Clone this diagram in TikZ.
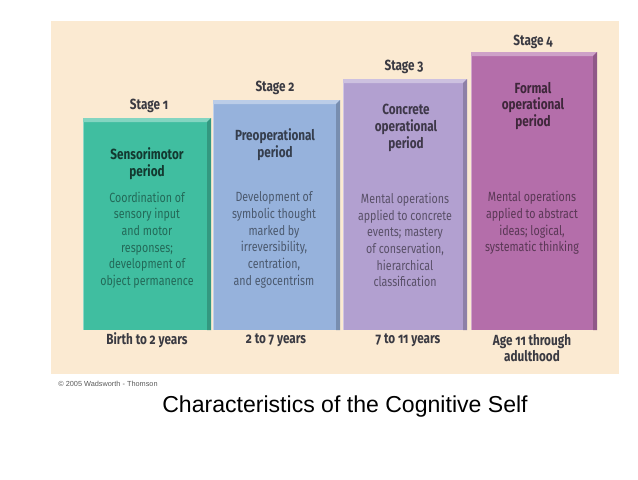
\documentclass[tikz,border=0pt]{standalone}
\usepackage{fontspec}
\setmainfont{Fira Sans}[Numbers=OldStyle, FakeStretch=0.8]
\newfontfamily\titlefont{Liberation Sans}

\definecolor{paper}{RGB}{251,234,210}
\definecolor{tealS}{RGB}{64,190,160}
\definecolor{blueS}{RGB}{150,178,220}
\definecolor{lilacS}{RGB}{178,160,208}
\definecolor{plumS}{RGB}{180,110,170}
\definecolor{inkS}{RGB}{58,58,66}

\begin{document}
\begin{tikzpicture}[
        x=0.75pt,
        y=-0.75pt,
        stagelab/.style={font=\fontsize{11}{13}\selectfont\bfseries, text=inkS},
        headtxt/.style={align=center, font=\fontsize{11}{12.5}\selectfont\bfseries},
        bodytxt/.style={align=center, font=\fontsize{10}{12.5}\selectfont},
        agetxt/.style={align=center, font=\fontsize{11}{11.5}\selectfont\bfseries, text=inkS}
    ]

    % ---------- 画布 ----------
    \useasboundingbox (0,0) rectangle (638,479);
    \def\bottom{330}  % 柱子底边
    \def\bev{4}       % 斜边宽度

    % 背景纸
    \fill[paper] (51,21) rectangle (619,374);

    % ---------- 四根柱子 ----------
    \foreach \i/\L/\T/\R/\col in {1/83/118/211/tealS, 2/213/100/340/blueS,
                                  3/343/79/467/lilacS, 4/471/52/597/plumS} {
        \coordinate (P\i) at (\L,\T);
        \coordinate (Q\i) at (\R,\bottom);
        \fill[\col] (P\i) rectangle (Q\i);
        % 上斜边（亮）
        \fill[\col!65!white] (\L,\T) -- (\R,\T) -- (\R-\bev,\T+\bev) -- (\L,\T+\bev) -- cycle;
        % 右斜边（暗）
        \fill[\col!80!black] (\R,\T) -- (\R,\bottom) -- (\R-\bev,\bottom) -- (\R-\bev,\T+\bev) -- cycle;
        % 左边细亮线
        \draw[\col!60!white, line width=0.8pt] (\L+0.5,\T+\bev) -- (\L+0.5,\bottom);
    }

    % ---------- 阶段标题 ----------
    \node[stagelab] (S1) at (149,106) {Stage 1};
    \node[stagelab] (S2) at (275,88)  {Stage 2};
    \node[stagelab] (S3) at (404,67)  {Stage 3};
    \node[stagelab] (S4) at (533,42)  {Stage 4};

    % ---------- 时期名称 ----------
    \node[headtxt, text=tealS!30!black]  (H1) at (147,164) {Sensorimotor\\period};
    \node[headtxt, text=blueS!35!black]  (H2) at (275,145) {Preoperational\\period};
    \node[headtxt, text=lilacS!35!black] (H3) at (406,128) {Concrete\\operational\\period};
    \node[headtxt, text=plumS!35!black]  (H4) at (533,106) {Formal\\operational\\period};

    % ---------- 说明文字 ----------
    \node[bodytxt, text=tealS!55!black] (T1) at (147,240)
        {Coordination of\\sensory input\\and motor\\responses;\\development of\\object permanence};
    \node[bodytxt, text=blueS!50!black] (T2) at (274,240)
        {Development of\\symbolic thought\\marked by\\irreversibility,\\centration,\\and egocentrism};
    \node[bodytxt, text=lilacS!50!black] (T3) at (405,240)
        {Mental operations\\applied to concrete\\events; mastery\\of conservation,\\hierarchical\\classification};
    \node[bodytxt, text=plumS!50!black] (T4) at (532,223)
        {Mental operations\\applied to abstract\\ideas; logical,\\systematic thinking};

    % ---------- 年龄 ----------
    \node[agetxt] (Y1) at (147,340) {Birth to 2 years};
    \node[agetxt] (Y2) at (276,340) {2 to 7 years};
    \node[agetxt] (Y3) at (408,340) {7 to 11 years};
    \node[agetxt] (Y4) at (532,348) {Age 11 through\\adulthood};

    % ---------- 版权与标题 ----------
    \node[text=black!65, font=\titlefont\fontsize{5.5}{6}\selectfont] (cr) at (108,384)
        {\textcopyright\ 2005 Wadsworth - Thomson};
    \node[font=\titlefont\fontsize{17.3}{20}\selectfont] (title) at (345,407)
        {Characteristics of the Cognitive Self};

\end{tikzpicture}
\end{document}
